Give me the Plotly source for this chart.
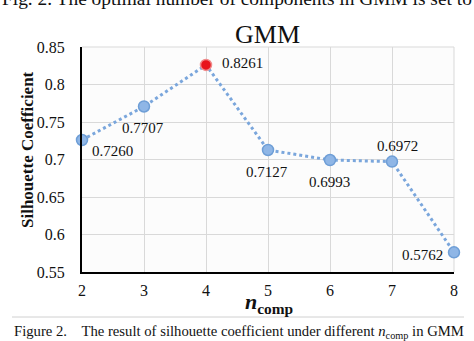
import plotly.graph_objects as go

n_comp = [2, 3, 4, 5, 6, 7, 8]
silhouette = [0.7260, 0.7707, 0.8261, 0.7127, 0.6993, 0.6972, 0.5762]
labels = ["0.7260", "0.7707", "0.8261", "0.7127", "0.6993", "0.6972", "0.5762"]
y_ticks = [0.55, 0.6, 0.65, 0.7, 0.75, 0.8, 0.85]
y_tick_text = ["0.55", "0.6", "0.65", "0.7", "0.75", "0.8", "0.85"]
best_idx = silhouette.index(max(silhouette))

# label offsets (pixels) relative to each point
label_dx = [30, -1, 36, -1, -1, 5, -32]
label_dy = [11, 22, -2, 22, 22, -16, 3]

W, H = 474, 341
ML, MR, MT, MB = 82, 20, 47, 69
PW = W - ML - MR
PH = H - MT - MB

SERIF = "Liberation Serif"

fill_colors = ["#e8141c" if i == best_idx else "#8fb6e6" for i in range(len(n_comp))]
line_colors = ["#f08a8a" if i == best_idx else "#6e9ed6" for i in range(len(n_comp))]

fig = go.Figure()
fig.add_trace(go.Scatter(
    x=n_comp, y=silhouette, mode="lines+markers",
    line=dict(color="#7aa6dc", width=3, dash="dot"),
    marker=dict(size=11, color=fill_colors, line=dict(color=line_colors, width=1.5)),
    showlegend=False, cliponaxis=False,
))

ann = []
for i, (x, y, t) in enumerate(zip(n_comp, silhouette, labels)):
    ann.append(dict(x=x, y=y, xref="x", yref="y", text=t, showarrow=False,
                    xshift=label_dx[i], yshift=-label_dy[i],
                    font=dict(family=SERIF, size=15, color="#111")))

def px(pix):
    return (pix - ML) / PW

def py(pix):
    return 1 - (pix - MT) / PH

# title
ann.append(dict(x=px(267), y=py(34), xref="paper", yref="paper", text="GMM", showarrow=False,
                font=dict(family=SERIF, size=26, color="#111"), yanchor="middle"))
# y axis title
ann.append(dict(x=px(27), y=py(150), xref="paper", yref="paper",
                text="<b>Silhouette Coefficient</b>", showarrow=False, textangle=-90,
                font=dict(family=SERIF, size=17, color="#111"), xanchor="center", yanchor="middle"))
# x axis title
ann.append(dict(x=px(269), y=py(303), xref="paper", yref="paper",
                text="<b><i>n</i></b><sub><b>comp</b></sub>", showarrow=False,
                font=dict(family=SERIF, size=22, color="#111"), xanchor="center", yanchor="middle"))
# cut-off text above
ann.append(dict(x=px(0), y=py(-1), xref="paper", yref="paper",
                text="Fig. 2. The optimal number of components in GMM is set to", showarrow=False,
                font=dict(family=SERIF, size=19.4, color="#111"), xanchor="left", yanchor="middle"))
# caption
ann.append(dict(x=px(12), y=py(332), xref="paper", yref="paper",
                text="Figure 2.&nbsp;&nbsp;&nbsp; The result of silhouette coefficient under different <i>n</i><sub>comp</sub> in GMM",
                showarrow=False, font=dict(family=SERIF, size=14.7, color="#111"),
                xanchor="left", yanchor="middle"))

fig.update_layout(
    width=W, height=H,
    margin=dict(l=ML, r=MR, t=MT, b=MB, pad=0),
    paper_bgcolor="white", plot_bgcolor="#fcfcfc",
    annotations=ann,
    shapes=[dict(type="line", xref="paper", yref="paper",
                 x0=px(12), x1=px(464), y0=py(317), y1=py(317),
                 line=dict(color="#d0d0d0", width=1))],
    xaxis=dict(range=[2, 8], tickvals=n_comp, ticktext=[str(v) for v in n_comp],
               showgrid=True, gridcolor="#d9d9d9", gridwidth=1,
               showline=True, linecolor="black", linewidth=2, zeroline=False,
               ticks="", ticklabelstandoff=3,
               tickfont=dict(family=SERIF, size=16, color="#111")),
    yaxis=dict(range=[0.55, 0.85], tickvals=y_ticks, ticktext=y_tick_text,
               showgrid=True, gridcolor="#d9d9d9", gridwidth=1,
               showline=True, linecolor="black", linewidth=2, zeroline=False,
               ticks="", ticklabelstandoff=12,
               tickfont=dict(family=SERIF, size=16, color="#111")),
)
fig.add_shape(type="line", xref="paper", yref="paper", x0=0, x1=1, y0=1, y1=1,
              line=dict(color="#d9d9d9", width=1), layer="below")
fig.add_shape(type="line", xref="paper", yref="paper", x0=1, x1=1, y0=0, y1=1,
              line=dict(color="#d9d9d9", width=1), layer="below")

fig.write_html("out.html")
